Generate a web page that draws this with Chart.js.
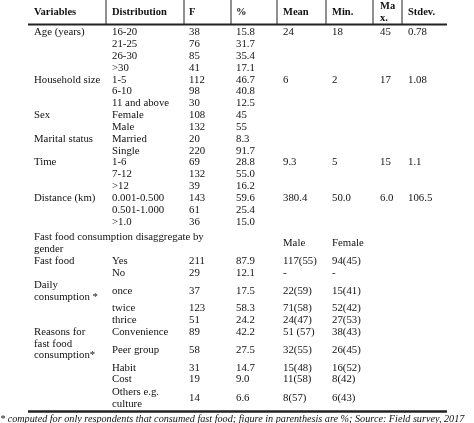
<!DOCTYPE html>
<html>
<head>
<meta charset="utf-8">
<script src="https://cdn.jsdelivr.net/npm/chart.js@4"></script>
<style>
  html, body { margin: 0; padding: 0; background: #fff; }
  #wrap { width: 474px; height: 423px; }
</style>
</head>
<body>
<div id="wrap"><canvas id="myChart"></canvas></div>
<script>
// Column headers and cell texts
var headers = ["Variables", "Distribution", "F", "%", "Mean", "Min.", "Ma\nx.", "Stdev."];

var variables = ["Age (years)", "", "", "", "Household size", "", "", "Sex", "", "Marital status", "",
  "Time", "", "", "Distance (km)", "", "", "Fast food consumption disaggregate by\ngender",
  "Fast food", "", "Daily\nconsumption *", "", "", "", "Reasons for\nfast food\nconsumption*", "", "", "", ""];
var distribution = ["16-20", "21-25", "26-30", ">30", "1-5", "6-10", "11 and above", "Female", "Male", "Married", "Single",
  "1-6", "7-12", ">12", "0.001-0.500", "0.501-1.000", ">1.0", "",
  "Yes", "No", "once", "twice", "thrice", "Convenience", "", "Peer group", "Habit", "Cost", "Others e.g.\nculture"];
var freq = ["38", "76", "85", "41", "112", "98", "30", "108", "132", "20", "220",
  "69", "132", "39", "143", "61", "36", "",
  "211", "29", "37", "123", "51", "89", "", "58", "31", "19", "14"];
var percent = ["15.8", "31.7", "35.4", "17.1", "46.7", "40.8", "12.5", "45", "55", "8.3", "91.7",
  "28.8", "55.0", "16.2", "59.6", "25.4", "15.0", "",
  "87.9", "12.1", "17.5", "58.3", "24.2", "42.2", "", "27.5", "14.7", "9.0", "6.6"];
var mean = ["24", "", "", "", "6", "", "", "", "", "", "",
  "9.3", "", "", "380.4", "", "", "Male",
  "117(55)", "-", "22(59)", "71(58)", "24(47)", "51 (57)", "", "32(55)", "15(48)", "11(58)", "8(57)"];
var minimum = ["18", "", "", "", "2", "", "", "", "", "", "",
  "5", "", "", "50.0", "", "", "Female",
  "94(45)", "-", "15(41)", "52(42)", "27(53)", "38(43)", "", "26(45)", "16(52)", "8(42)", "6(43)"];
var maximum = ["45", "", "", "", "17", "", "", "", "", "", "",
  "15", "", "", "6.0", "", "", "",
  "", "", "", "", "", "", "", "", "", "", ""];
var stdev = ["0.78", "", "", "", "1.08", "", "", "", "", "", "",
  "1.1", "", "", "106.5", "", "", "",
  "", "", "", "", "", "", "", "", "", "", ""];
var footnote = "* computed for only respondents that consumed fast food; figure in parenthesis are %; Source: Field survey, 2017";

// Layout (pixel units on hidden linear scales)
var colX = [34, 112, 189, 236, 283, 332, 380, 408];
var rowY = [32, 44, 56, 68, 80, 91.5, 103, 115, 127, 139, 151, 162.5, 174, 186, 198, 210, 222, 243,
  261, 273, 291, 308, 320, 332, 344, 350, 368, 379.5, 398];
var separators = [106, 184, 231, 277, 326, 373, 402];

var columns = [variables, distribution, freq, percent, mean, minimum, maximum, stdev];

var tablePlugin = {
  id: "tablePlugin",
  afterDraw: function (chart) {
    var c = chart.ctx, xs = chart.scales.x, ys = chart.scales.y;
    function px(v) { return xs.getPixelForValue(v); }
    function py(v) { return ys.getPixelForValue(v); }
    function text(str, x, y, lh) {
      var lines = str.split("\n");
      var start = y - (lines.length - 1) * lh / 2;
      lines.forEach(function (l, i) { c.fillText(l, px(x), py(start + i * lh)); });
    }
    c.save();
    c.fillStyle = "#111";
    c.textBaseline = "middle";
    c.textAlign = "left";
    // header
    c.font = "bold 10.5px 'Liberation Serif', 'Times New Roman', serif";
    headers.forEach(function (h, i) { text(h, colX[i], 12, 12); });
    // header separators
    c.strokeStyle = "#222";
    c.lineWidth = 1;
    separators.forEach(function (s) {
      c.beginPath(); c.moveTo(px(s), py(0)); c.lineTo(px(s), py(24)); c.stroke();
    });
    c.lineWidth = 2;
    c.beginPath(); c.moveTo(px(28), py(24.5)); c.lineTo(px(447), py(24.5)); c.stroke();
    c.lineWidth = 2.5;
    c.beginPath(); c.moveTo(px(28), py(411.5)); c.lineTo(px(447), py(411.5)); c.stroke();
    // body
    c.font = "10.8px 'Liberation Serif', 'Times New Roman', serif";
    columns.forEach(function (col, ci) {
      col.forEach(function (v, ri) { if (v) text(v, colX[ci], rowY[ri], 11.5); });
    });
    // footnote
    c.font = "italic 10.2px 'Liberation Serif', 'Times New Roman', serif";
    text(footnote, 0, 419.5, 11);
    c.restore();
  }
};

var ctx = document.getElementById("myChart").getContext("2d");
var myChart = new Chart(ctx, {
  type: "scatter",
  data: { datasets: [{ data: [], pointRadius: 0 }] },
  options: {
    responsive: true,
    maintainAspectRatio: false,
    animation: false,
    layout: { padding: 0 },
    scales: {
      x: { type: "linear", min: 0, max: 474, display: false },
      y: { type: "linear", min: 0, max: 423, reverse: true, display: false }
    },
    plugins: { legend: { display: false }, tooltip: { enabled: false } }
  },
  plugins: [tablePlugin]
});
</script>
</body>
</html>
